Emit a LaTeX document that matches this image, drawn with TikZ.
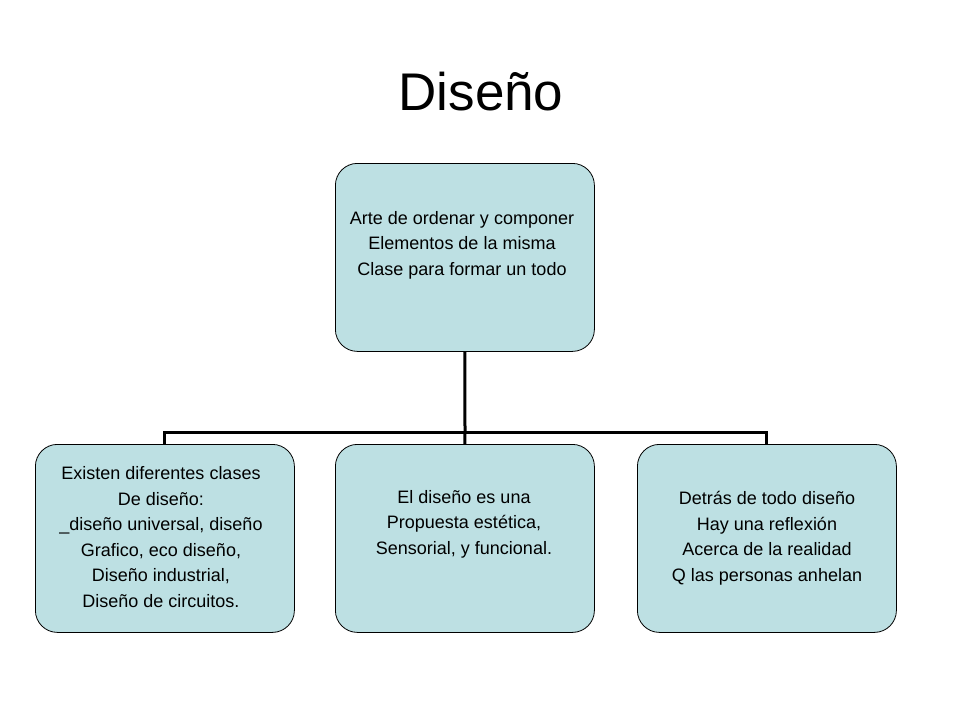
\documentclass[tikz,border=0pt]{standalone}
\usepackage{fontspec}
\setmainfont{Liberation Sans}
\definecolor{boxfill}{HTML}{BDE0E3}
\begin{document}
\begin{tikzpicture}[x=1pt,y=-1pt,
  box/.style={draw=black,fill=boxfill,rounded corners=22pt,line width=0.8pt,minimum width=259pt,minimum height=188pt,anchor=north west},
  txt/.style={align=center,font=\fontsize{18}{25.5}\selectfont},
  conn/.style={line width=3pt}]
\useasboundingbox (0,0) rectangle (960,720);
\node[font=\fontsize{53}{60}\selectfont] (title) at (481,92) {Diseño};
\node[box] (top) at (335,163) {};
\node[box] (b1) at (35,444) {};
\node[box] (b2) at (335,444) {};
\node[box] (b3) at (637,444) {};
\node[txt] at (462,245) {Arte de ordenar y componer\\Elementos de la misma\\Clase para formar un todo};
\node[txt] at (161,537) {Existen diferentes clases\\De diseño:\\\_diseño universal, diseño\\Grafico, eco diseño,\\Diseño industrial,\\Diseño de circuitos.};
\node[txt] at (464,524) {El diseño es una\\Propuesta estética,\\Sensorial, y funcional.};
\node[txt] at (767,538) {Detrás de todo diseño\\Hay una reflexión\\Acerca de la realidad\\Q las personas anhelan};
\coordinate (j) at (465,432);
\draw[conn] (top.south) -- (j);
\draw[conn] (b1.north) ++(0,0) |- (j) -| (b3.north);
\draw[conn] (j) -- (b2.north);
\end{tikzpicture}
\end{document}
